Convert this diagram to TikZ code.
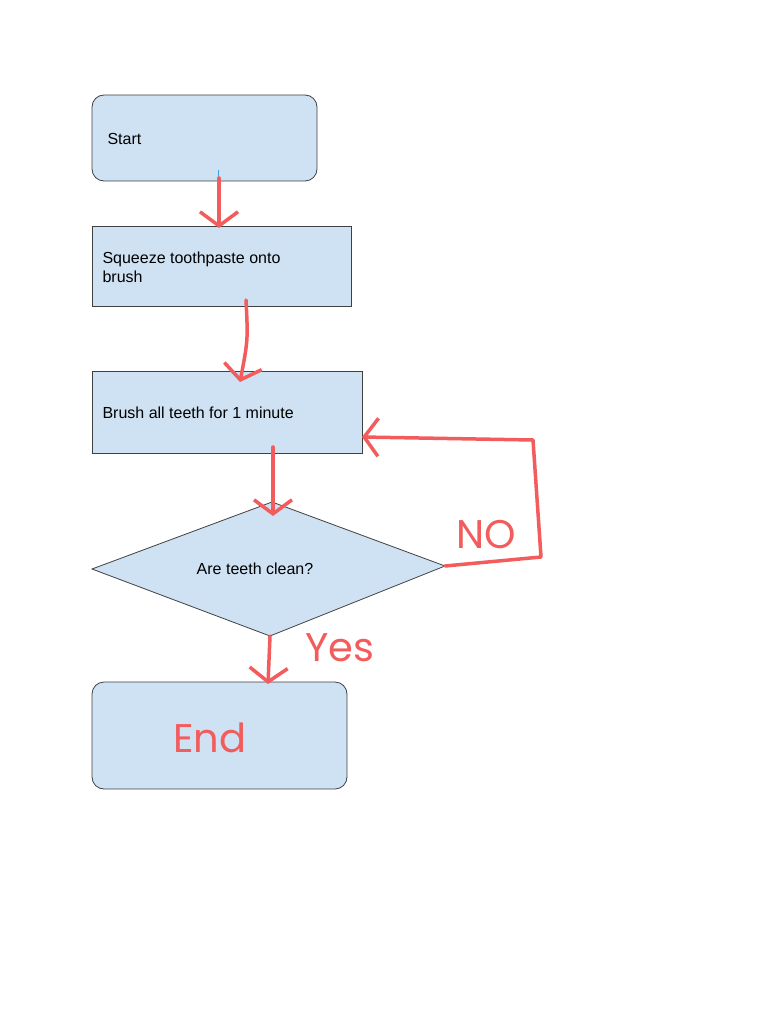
\documentclass[tikz,border=0pt]{standalone}
\usepackage{fontspec}
\setmainfont{Liberation Sans}
\newfontfamily\hand{Poppins}
\usetikzlibrary{arrows.meta,shapes.geometric}
\definecolor{boxfill}{HTML}{CFE2F3}
\definecolor{pen}{HTML}{F25C5C}
\begin{document}
\begin{tikzpicture}[x=1pt,y=-1pt,
  box/.style={draw=black!75,fill=boxfill,line width=0.8pt},
  lbl/.style={anchor=west,font=\fontsize{16}{19}\selectfont,align=left},
  redarr/.style={draw=pen,line width=3.5pt,line cap=round,line join=round,-{Straight Barb[length=14pt,width=38pt,line width=3.5pt]}},
  redline/.style={draw=pen,line width=3.5pt,line cap=round,line join=round},
  handtxt/.style={text=pen,font=\hand\fontsize{40}{44}\selectfont}]
\useasboundingbox (0,0) rectangle (768,1024);
\fill[white] (0,0) rectangle (768,1024);
\node[box,rounded corners=12pt,minimum width=225pt,minimum height=86pt] (start) at (204.5,138) {};
\node[lbl] at (104,139) {Start};
\node[box,minimum width=259pt,minimum height=80pt] (sq) at (221.5,266) {};
\node[lbl] at (99,267) {Squeeze toothpaste onto\\brush};
\node[box,minimum width=270pt,minimum height=82pt] (br) at (227,412) {};
\node[lbl] at (99,413) {Brush all teeth for 1 minute};
\draw[box] (92,569) coordinate (dl) -- (272,502) coordinate (dt) -- (445,566) coordinate (dr) -- (270,636) coordinate (db) -- cycle;
\node[font=\fontsize{16}{19}\selectfont] (dia) at (255,569) {Are teeth clean?};
\node[box,rounded corners=12pt,minimum width=255pt,minimum height=107pt] (end) at (219.5,735.5) {};
\node[handtxt] at (210,738) {End};
\draw[draw={rgb,255:red,60;green,160;blue,230},line width=1pt] (218,170) -- (218,180);
\coordinate (a1) at (219,178); \coordinate (a1e) at (219,228);
\draw[redarr] (a1) -- (a1e);
\coordinate (a2) at (246,300); \coordinate (a2e) at (240,382);
\draw[redarr] (a2) .. controls (248,340) .. (a2e);
\coordinate (a3) at (273,447); \coordinate (a3e) at (273,516);
\draw[redarr] (a3) -- (a3e);
\coordinate (n1) at (541,557); \coordinate (n2) at (533,440); \coordinate (n3) at (362,437);
\draw[redarr] (dr) -- (n1) -- (n2) -- (n3);
\node[handtxt] at (486,535) {NO};
\coordinate (y1) at (268,684);
\draw[redarr] (db) -- (y1);
\node[handtxt] at (340,648) {Yes};
\end{tikzpicture}
\end{document}
